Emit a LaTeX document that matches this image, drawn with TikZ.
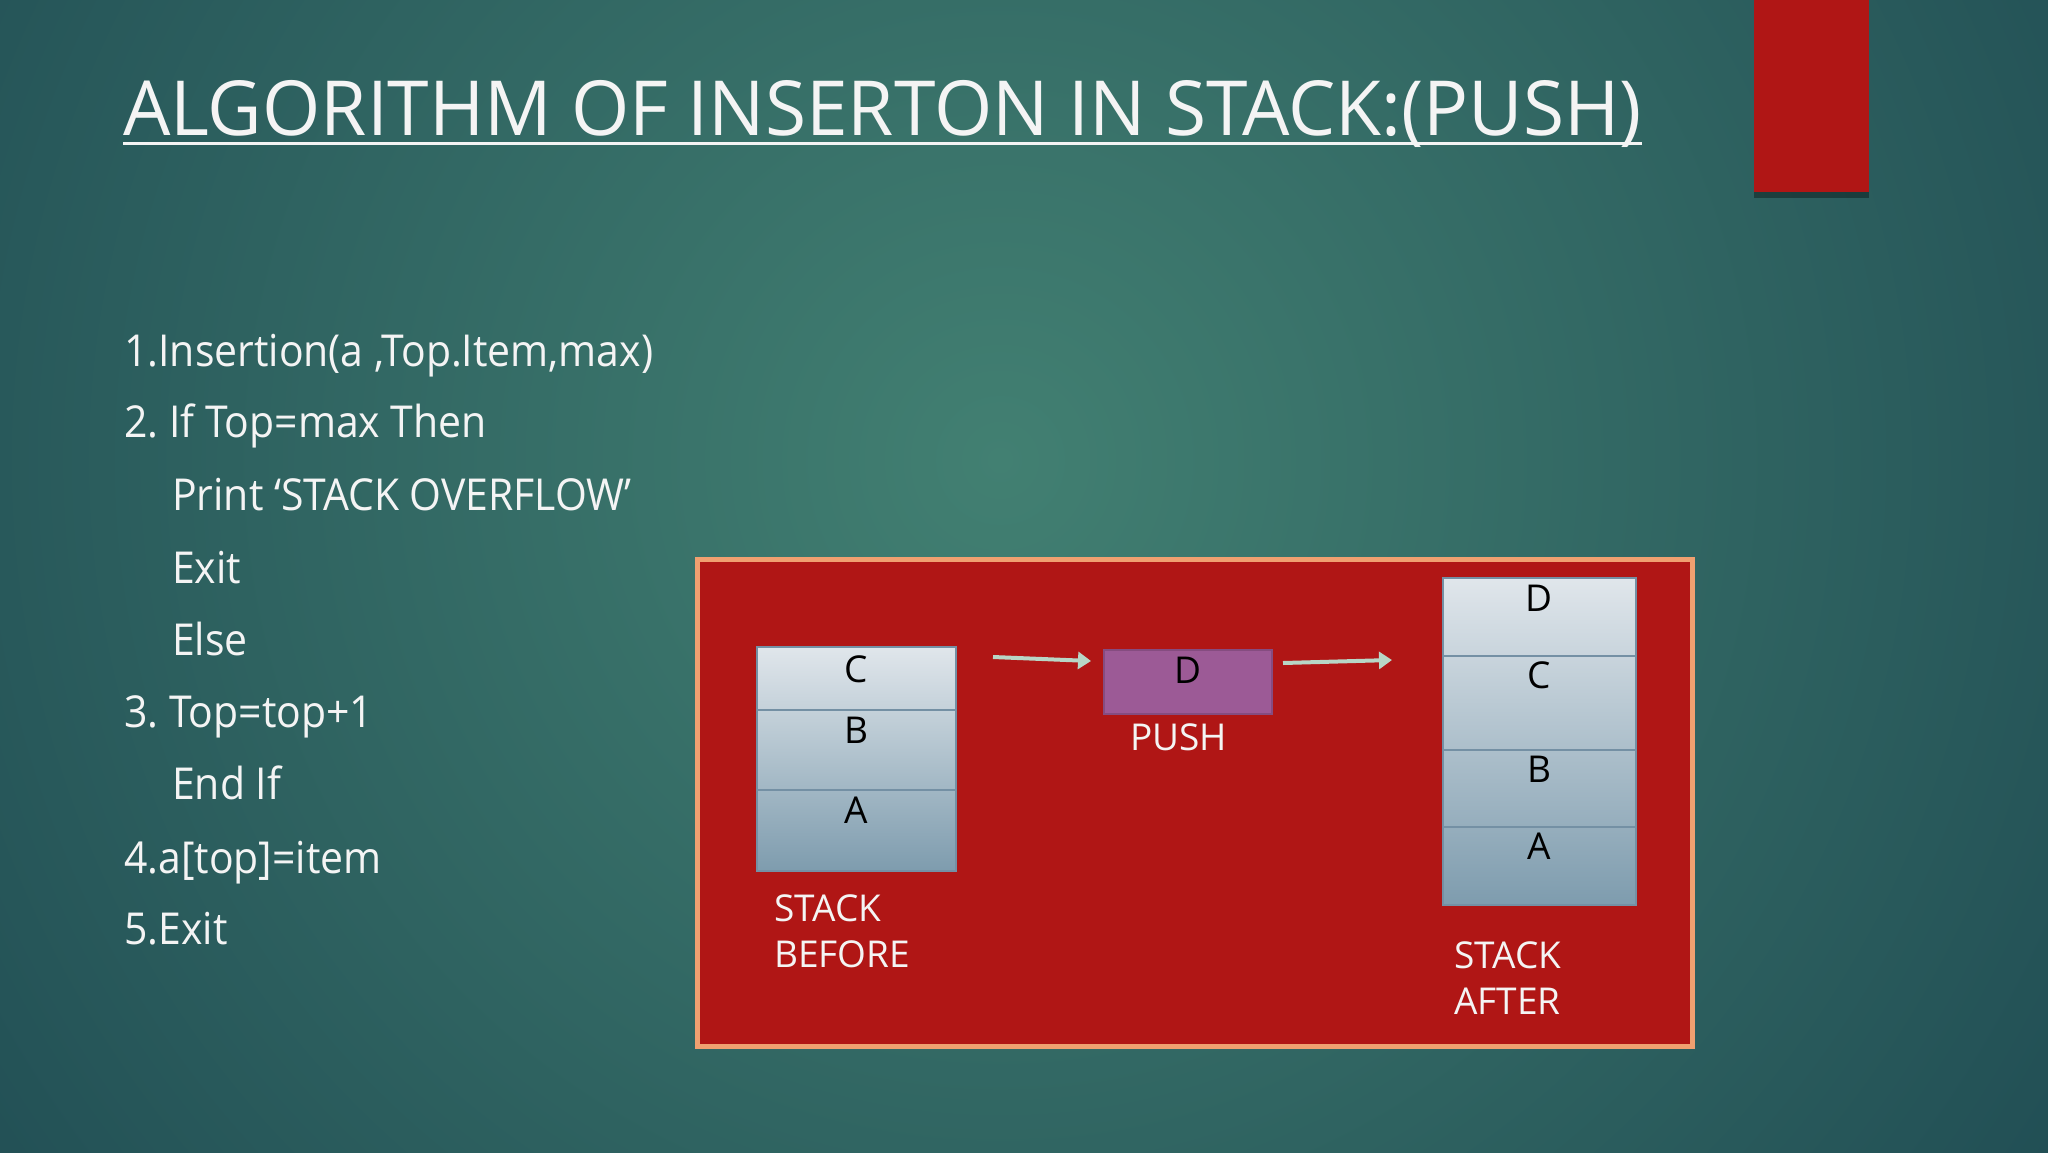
\documentclass[tikz,border=0pt]{standalone}
\usepackage{fontspec}
\usepackage{graphicx}
\setmainfont{Open Sans}
\usetikzlibrary{arrows.meta,calc}
\frenchspacing
\definecolor{bgin}{RGB}{66,128,114}
\definecolor{bgout}{RGB}{17,54,70}
\definecolor{boxred}{RGB}{176,22,21}
\definecolor{boxedge}{RGB}{240,160,112}
\definecolor{celltop}{RGB}{224,230,235}
\definecolor{cellbot}{RGB}{126,156,174}
\definecolor{celledge}{RGB}{116,144,164}
\definecolor{pushfill}{RGB}{156,90,150}
\definecolor{arrowc}{RGB}{184,214,198}
\definecolor{txt}{RGB}{244,244,244}
\newcommand{\squeezetxt}[1]{\scalebox{0.93}[1]{#1}}
\tikzset{
  algline/.style={anchor=base west, inner sep=0pt, text=txt, font=\fontsize{44}{50}\selectfont},
  celltext/.style={anchor=base, inner sep=0pt, text=black, font=\fontsize{37}{44}\selectfont},
  lbl/.style={anchor=base west, inner sep=0pt, text=txt, align=left, font=\fontsize{37}{46}\selectfont},
  cellbox/.style={draw=celledge, line width=1.6pt, anchor=north west, inner sep=0pt, minimum width=#1},
  conn/.style={draw=arrowc, line width=4pt, -{Triangle[length=13pt,width=17pt]}}
}
\begin{document}
\begin{tikzpicture}[x=1pt,y=-1pt]
\useasboundingbox (0,0) rectangle (2048,1152);
% background
\begin{scope}
\clip (0,0) rectangle (2048,1152);
\fill[bgout] (0,0) rectangle (2048,1152);
\shade[inner color=bgin, outer color=bgout] (1000,460) circle (1900pt);
\end{scope}
% red accent bar
\fill[black, opacity=0.35] (1754,188) rectangle (1869,198);
\fill[boxred] (1754,0) rectangle (1869,192);
% title
\node[anchor=base west, inner sep=0pt, text=txt, font=\fontsize{76}{84}\selectfont] (title) at (123,135)
  {\scalebox{0.985}[1]{ALGORITHM OF INSERTON IN STACK:(PUSH)}};
\draw[txt, line width=3pt] ($(title.base west)+(0,8)$) -- ($(title.base east)+(0,8)$);
% algorithm
\node[algline] (l1) at (124,366) {\squeezetxt{1.Insertion(a ,Top.Item,max)}};
\node[algline] (l2) at (124,437) {\squeezetxt{2. If Top=max Then}};
\node[algline] (l3) at (172,510) {\squeezetxt{Print ‘STACK OVERFLOW’}};
\node[algline] (l4) at (172,583) {\squeezetxt{Exit}};
\node[algline] (l5) at (172,655) {\squeezetxt{Else}};
\node[algline] (l6) at (124,727) {\squeezetxt{3. Top=top+1}};
\node[algline] (l7) at (172,799) {\squeezetxt{End If}};
\node[algline] (l8) at (124,873) {\squeezetxt{4.a[top]=item}};
\node[algline] (l9) at (124,944) {\squeezetxt{5.Exit}};
% panel
\node[draw=boxedge, fill=boxred, line width=5pt, anchor=north west, inner sep=0pt,
      minimum width=995pt, minimum height=487pt] (panel) at (695,557) {};
% stack before
\node[cellbox=199pt, minimum height=63pt, top color=celltop, bottom color=cellbot!28!celltop] (bC) at (756,646) {};
\node[cellbox=199pt, minimum height=80pt, top color=cellbot!28!celltop, bottom color=cellbot!64!celltop] (bB) at (756,709) {};
\node[cellbox=199pt, minimum height=81pt, top color=cellbot!64!celltop, bottom color=cellbot] (bA) at (756,789) {};
\node[celltext] (tbC) at ($(bC.north)+(0,36)$) {C};
\node[celltext] (tbB) at ($(bB.north)+(0,34)$) {B};
\node[celltext] (tbA) at ($(bA.north)+(0,34)$) {A};
\node[lbl] (before) at (774,967) {STACK\\BEFORE};
% push
\node[draw=pushfill!85!black, fill=pushfill, line width=1.5pt, anchor=north west, inner sep=0pt,
      minimum width=168pt, minimum height=64pt] (push) at (1103,649) {};
\node[celltext] (tpD) at ($(push.north)+(0,34)$) {D};
\node[lbl] (pushlbl) at (1130,750) {PUSH};
% stack after
\node[cellbox=193pt, minimum height=78pt, top color=celltop, bottom color=cellbot!24!celltop] (aD) at (1442,577) {};
\node[cellbox=193pt, minimum height=94pt, top color=cellbot!24!celltop, bottom color=cellbot!53!celltop] (aC) at (1442,655) {};
\node[cellbox=193pt, minimum height=77pt, top color=cellbot!53!celltop, bottom color=cellbot!76!celltop] (aB) at (1442,749) {};
\node[cellbox=193pt, minimum height=78pt, top color=cellbot!76!celltop, bottom color=cellbot] (aA) at (1442,826) {};
\node[celltext] (taD) at ($(aD.north)+(0,34)$) {D};
\node[celltext] (taC) at ($(aC.north)+(0,33)$) {C};
\node[celltext] (taB) at ($(aB.north)+(0,33)$) {B};
\node[celltext] (taA) at ($(aA.north)+(0,33)$) {A};
\node[lbl] (after) at (1454,1014) {STACK\\AFTER};
% arrows
\coordinate (a1s) at (993,657);
\coordinate (a1e) at (1091,661);
\coordinate (a2s) at (1283,663);
\coordinate (a2e) at (1392,660);
\draw[conn] (a1s) -- (a1e);
\draw[conn] (a2s) -- (a2e);
\end{tikzpicture}
\end{document}
